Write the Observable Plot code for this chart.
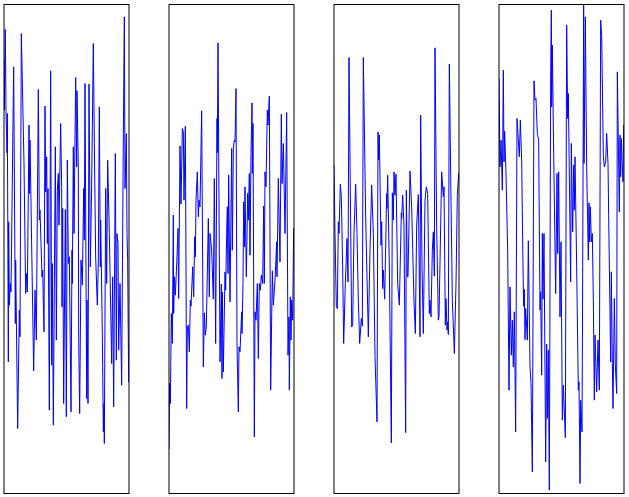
<!DOCTYPE html>
<html><head><meta charset="utf-8">
<script src="https://cdn.jsdelivr.net/npm/d3@7"></script>
<script src="https://cdn.jsdelivr.net/npm/@observablehq/plot@0.6"></script>
<style>html,body{margin:0;padding:0;background:#fff}svg{display:block}</style>
</head><body><div id="chart"></div>
<script>
const panels = [0, 1, 2, 3];
const series1 = [[0,1305],[1,1150],[4,1392],[6,1145],[9,1022],[10,1140],[13,395],[14,815],[16,565],[19,630],[21,605],[29,1280],[34,510],[35,700],[41,195],[46,550],[48,470],[52,1380],[60,990],[65,600],[67,660],[70,605],[75,1105],[76,900],[78,1060],[89,368],[93,610],[97,460],[103,1212],[106,820],[108,850],[114,650],[116,670],[120,485],[123,1162],[125,905],[128,1010],[130,750],[132,915],[136,250],[140,1268],[143,385],[145,690],[148,205],[154,1040],[157,460],[160,910],[163,960],[165,805],[170,1110],[173,920],[174,560],[176,855],[179,270],[184,852],[187,230],[190,1000],[193,690],[196,710],[201,245],[204,730],[205,630],[208,1040],[210,780],[215,1248],[218,980],[219,1208],[223,970],[224,470],[227,240],[231,700],[235,625],[239,915],[241,760],[243,1230],[248,285],[249,580],[252,270],[255,1228],[259,680],[263,925],[268,1350],[271,1050],[275,710],[278,620],[280,565],[283,700],[286,1160],[289,680],[290,820],[295,480],[298,185],[300,270],[301,150],[305,915],[308,630],[311,1000],[316,780],[323,390],[326,650],[329,260],[334,1020],[337,400],[339,780],[342,750],[344,430],[348,630],[353,325],[358,1080],[361,1430],[363,915],[367,1080],[369,780],[371,700],[374,335]];
const series2 = [[0,135],[2,330],[4,270],[7,540],[10,450],[13,835],[14,540],[16,650],[19,595],[24,710],[27,795],[29,585],[33,1043],[36,868],[40,1095],[43,1085],[45,880],[49,1102],[53,255],[55,500],[58,505],[61,425],[64,580],[66,562],[71,680],[74,590],[77,770],[79,710],[81,880],[85,965],[88,830],[90,880],[93,860],[98,1148],[103,380],[106,542],[109,475],[112,500],[118,825],[121,590],[123,780],[128,730],[133,583],[136,945],[140,450],[144,1125],[145,1022],[147,1352],[153,395],[157,628],[159,345],[160,605],[163,365],[168,665],[170,610],[173,780],[175,860],[177,660],[179,955],[183,575],[188,1035],[190,730],[193,1035],[196,1060],[198,1055],[201,1215],[204,450],[208,245],[210,440],[213,425],[218,545],[219,480],[222,630],[224,875],[226,740],[228,920],[232,650],[236,900],[238,820],[241,960],[243,715],[246,1020],[249,1172],[250,960],[252,1110],[256,170],[258,545],[261,520],[265,630],[268,405],[271,630],[274,610],[277,655],[281,630],[284,862],[286,630],[288,965],[291,920],[295,1150],[297,1105],[301,1192],[305,310],[310,668],[313,565],[318,640],[323,755],[324,650],[328,945],[333,695],[337,1138],[339,930],[343,1050],[348,780],[353,1143],[357,415],[360,530],[361,310],[364,590],[366,460],[368,580],[371,520],[374,795]];
const series3 = [[0,985],[3,780],[7,560],[10,555],[13,815],[15,780],[19,928],[22,890],[26,680],[29,450],[34,630],[39,765],[42,635],[45,1308],[53,500],[56,505],[60,780],[65,928],[69,780],[73,580],[77,450],[82,525],[85,502],[88,1308],[95,830],[103,470],[108,730],[113,925],[118,780],[123,410],[129,215],[132,1085],[134,1000],[136,1075],[141,745],[143,815],[146,615],[148,670],[152,583],[158,900],[159,855],[161,955],[166,680],[172,152],[175,902],[178,820],[180,965],[183,895],[186,958],[191,630],[196,565],[202,842],[203,825],[206,895],[210,800],[215,183],[217,910],[220,650],[222,650],[228,967],[233,860],[240,575],[244,480],[248,805],[253,897],[258,470],[260,1135],[264,680],[268,480],[273,880],[277,920],[281,900],[286,540],[288,580],[291,530],[295,730],[298,785],[301,652],[303,1337],[308,800],[313,520],[315,530],[323,965],[328,890],[330,920],[334,505],[336,585],[339,490],[341,515],[343,477],[346,1288],[351,880],[355,580],[361,420],[366,630],[370,895],[374,960]];
const series4 = [[0,1245],[3,980],[6,1060],[10,910],[13,1270],[15,995],[17,1087],[21,960],[26,730],[30,310],[33,620],[37,415],[40,520],[43,380],[46,545],[50,185],[54,1125],[61,1010],[64,1120],[68,1000],[72,680],[74,562],[76,612],[78,462],[80,555],[85,460],[88,758],[93,380],[96,330],[100,65],[105,1238],[108,1180],[111,1185],[115,1080],[119,1060],[123,550],[125,605],[128,355],[130,780],[132,583],[135,780],[140,95],[143,448],[145,225],[148,430],[151,10],[155,1250],[157,1450],[158,1160],[160,1345],[164,1020],[170,600],[174,960],[176,720],[179,965],[183,530],[186,755],[190,220],[193,325],[199,168],[203,1405],[206,1125],[208,1200],[215,635],[217,1050],[221,785],[224,985],[226,850],[228,1010],[233,680],[238,310],[240,335],[243,30],[245,280],[249,185],[250,395],[254,1465],[255,990],[259,1430],[263,980],[268,700],[270,872],[272,755],[274,860],[277,755],[280,780],[283,580],[286,280],[288,475],[293,305],[297,460],[301,310],[305,1420],[308,1375],[309,1305],[313,1010],[316,980],[320,995],[323,1080],[327,990],[329,835],[335,395],[337,665],[340,390],[342,255],[346,585],[349,385],[353,300],[355,1265],[361,845],[363,1075],[365,950],[367,1065],[369,1000],[372,935],[374,1105]];
const rows = [series1, series2, series3, series4].flatMap((s, i) =>
  s.map(([t, v]) => ({panel: panels[i], t, v})));

const chart = Plot.plot({
  width: 629, height: 497,
  marginLeft: 4, marginRight: 5, marginTop: 4, marginBottom: 4,
  style: {background: "#fff"},
  fx: {domain: panels, axis: null, paddingInner: 40 / 165, paddingOuter: 0, round: false},
  x: {domain: [0, 375], axis: null},
  y: {domain: [0, 1467], axis: null},
  marks: [
    Plot.line(rows, {fx: "panel", x: "t", y: "v", stroke: "blue", strokeWidth: 1, clip: true, dx: -0.5}),
    Plot.frame({stroke: "black", strokeWidth: 1, dx: -0.5})
  ]
});
document.getElementById("chart").append(chart);
</script></body></html>
